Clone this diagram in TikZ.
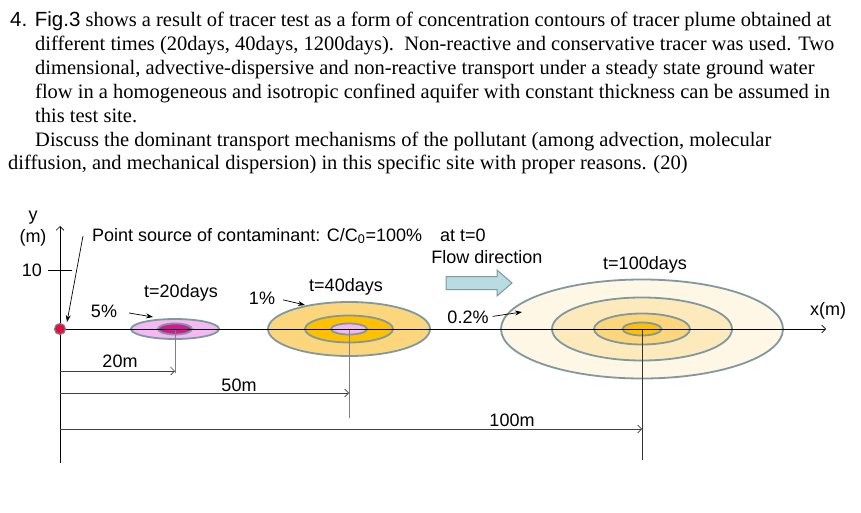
\documentclass[tikz,border=0pt]{standalone}
\usepackage{fontspec}
\setmainfont{Liberation Serif}
\setsansfont{Liberation Sans}
\usetikzlibrary{arrows,arrows.meta}

\definecolor{ringline}{RGB}{128,152,158}
\definecolor{pinkring}{RGB}{244,184,244}
\definecolor{magentacore}{RGB}{214,24,150}
\definecolor{amberlight}{RGB}{252,214,124}
\definecolor{amber}{RGB}{255,192,0}
\definecolor{creamouter}{RGB}{254,247,230}
\definecolor{creammid}{RGB}{253,234,188}
\definecolor{flowblue}{RGB}{184,220,226}
\definecolor{sourcered}{RGB}{226,16,64}

\tikzset{
  ring/.style={draw=ringline, line width=1.8pt},
  lab/.style={font=\sffamily\fontsize{18}{20}\selectfont, inner sep=0pt},
  qtext/.style={anchor=base west, inner sep=0pt, font=\fontsize{20.5}{24}\selectfont},
  pointer/.style={-{Stealth[length=7pt,width=5pt]}, line width=0.7pt},
  openhead/.style={-{Straight Barb[length=4pt,width=8pt]}},
  dimline/.style={openhead, line width=0.6pt, black!75},
  dropline/.style={line width=0.8pt, gray}
}

\begin{document}
\begin{tikzpicture}[x=1pt,y=-1pt]
    \useasboundingbox (0,0) rectangle (861,513);

    % question text
    \node[qtext] (q1) at (10,27) {{\sffamily 4. Fig.3} shows a result of tracer test as a form of concentration contours of tracer plume obtained at};
    \node[qtext] (q2) at (35,51) {different times (20days, 40days, 1200days).\ \ Non-reactive and conservative tracer was used. Two};
    \node[qtext] (q3) at (35,75) {dimensional, advective-dispersive and non-reactive transport under a steady state ground water};
    \node[qtext] (q4) at (35,99) {flow in a homogeneous and isotropic confined aquifer with constant thickness can be assumed in};
    \node[qtext] (q5) at (35,123) {this test site.};
    \node[qtext] (q6) at (35,147) {Discuss the dominant transport mechanisms of the pollutant (among advection, molecular};
    \node[qtext] (q7) at (8,170) {diffusion, and mechanical dispersion) in this specific site with proper reasons. (20)};

    \coordinate (O) at (60,329);
    \coordinate (C1) at (175,329);
    \coordinate (C2) at (349,329);
    \coordinate (C3) at (642,329);

    % plumes
    \filldraw[ring, fill=pinkring] (C1) ellipse [x radius=44pt, y radius=10pt];
    \filldraw[ring, fill=magentacore] (C1) ellipse [x radius=17pt, y radius=5.5pt];

    \filldraw[ring, fill=amberlight] (C2) ellipse [x radius=81pt, y radius=27pt];
    \filldraw[ring, fill=amber] (C2) ellipse [x radius=44pt, y radius=13.5pt];
    \filldraw[ring, fill=pinkring] (C2) ellipse [x radius=18pt, y radius=5.5pt];

    \filldraw[ring, fill=creamouter] (C3) ellipse [x radius=141pt, y radius=49.5pt];
    \filldraw[ring, fill=creammid] (C3) ellipse [x radius=90pt, y radius=31.5pt];
    \filldraw[ring, fill=amberlight] (C3) ellipse [x radius=48pt, y radius=15.5pt];
    \filldraw[ring, fill=amber] (C3) ellipse [x radius=19.5pt, y radius=6.5pt];

    % drops to the distances
    \draw[dropline] (C1) -- ++(0,44);
    \draw[dropline] (C2) -- ++(0,89);
    \draw[line width=0.8pt, black!80] (C3) -- ++(0,131);

    % axes
    \coordinate (ybot) at (60,463);
    \coordinate (ytop) at (60,226);
    \coordinate (xtip) at (826,329);
    \coordinate (tick10) at (60,270);
    \draw[openhead, line width=0.6pt] (ybot) -- (ytop);
    \draw[openhead, line width=0.6pt] (O) -- (xtip);
    \draw[line width=0.6pt] ([xshift=-12pt]tick10) -- ([xshift=12pt]tick10);
    \node[lab] (ylab) at (33,218) {y};
    \node[lab] (ymlab) at (33,238) {(m)};
    \node[lab] (ten) at (32,270) {10};
    \node[lab] (xlab) at (828,311) {x(m)};

    % source
    \filldraw[fill=sourcered, draw=gray, line width=1.2pt] (O) circle (5.5pt);
    \node[lab, anchor=west] (ps) at (92,236) {Point source of contaminant: C/C\textsubscript{0}=100\%\hspace{18pt}at t=0};
    \coordinate (srcin) at (67,322);
    \draw[pointer] ([xshift=-9pt]ps.west) -- (srcin);

    % times and contour values
    \node[lab] (n20) at (181,293) {t=20days};
    \node[lab] (n40) at (346,287) {t=40days};
    \node[lab] (n100) at (645,265) {t=100days};
    \node[lab] (p5) at (104,311) {5\%};
    \node[lab] (p1) at (262,298) {1\%};
    \node[lab] (p02) at (468,317) {0.2\%};
    \coordinate (t5) at (153,317);
    \coordinate (t1) at (305,305);
    \coordinate (t02) at (522,312);
    \draw[pointer, shorten <=12pt] (p5.east) -- (t5);
    \draw[pointer, shorten <=8pt] (p1.east) -- (t1);
    \draw[pointer, shorten <=4pt] (p02.east) -- (t02);

    % flow
    \node[lab] (flowlbl) at (487,257) {Flow direction};
    \filldraw[draw=ringline, fill=flowblue, line width=1pt] (446,276.5) -- (497,276.5) -- (497,270) -- (512,283) -- (497,296) -- (497,289.5) -- (446,289.5) -- cycle;

    % distances
    \coordinate (d20) at (175,371);
    \coordinate (d50) at (349,393);
    \coordinate (d100) at (642,429);
    \draw[dimline] (O |- d20) -- (d20);
    \draw[dimline] (O |- d50) -- (d50);
    \draw[dimline] (O |- d100) -- (d100);
    \node[lab] (l20) at (120,361) {20m};
    \node[lab] (l50) at (239,385) {50m};
    \node[lab] (l100) at (512,420) {100m};
\end{tikzpicture}
\end{document}
